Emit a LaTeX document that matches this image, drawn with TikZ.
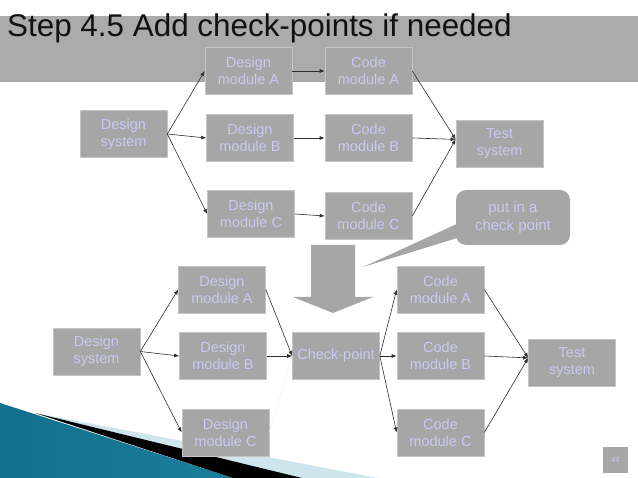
\documentclass[tikz,border=0pt]{standalone}
\usepackage{fontspec}
\setmainfont{Liberation Sans}
\usetikzlibrary{arrows.meta,calc}
\definecolor{bandgray}{HTML}{ABABAB}
\definecolor{boxgray}{HTML}{A6A6A6}
\definecolor{boxedge}{HTML}{C4C4C4}
\definecolor{lav}{HTML}{CACAF2}
\definecolor{lineclr}{HTML}{2E2E2E}
\definecolor{faint}{HTML}{E9F1F5}
\definecolor{swL}{HTML}{11708C}
\definecolor{swM}{HTML}{4BB0D0}
\definecolor{swR}{HTML}{1A7E9C}
\definecolor{paleblue}{HTML}{CFE5EE}
\definecolor{titleclr}{HTML}{111111}
\tikzset{
  pbox/.style={rectangle, fill=boxgray, draw=boxedge, line width=0.6pt,
    minimum width=87pt, minimum height=47pt, inner sep=0pt, text=lav,
    align=center, font=\fontsize{14.5}{17}\selectfont},
  conn/.style={draw=lineclr, line width=0.6pt, -{Latex[length=5pt,width=4pt]}},
}
\begin{document}
\begin{tikzpicture}[x=1pt,y=-1pt]
\useasboundingbox (0,0) rectangle (638,478);
\fill[white] (0,0) rectangle (638,478);
% title band
\fill[bandgray] (0,16) rectangle (638,82);
\node[anchor=base west, inner sep=0pt, font=\fontsize{31.4}{36}\selectfont, text=titleclr] (title) at (7,37) {Step 4.5 Add check-points if needed};
% decorative swoosh
\shade[left color=swL, middle color=swM, right color=swR] (0,403) -- (233,478) -- (0,478) -- cycle;
\fill[paleblue] (35,413) -- (378,478) -- (302,478) -- cycle;
\fill[black] (35,413) -- (302,478) -- (233,478) -- cycle;
% big down arrow
\fill[boxgray] (311,245) -- (355,245) -- (355,297) -- (373,297) -- (333,313) -- (293,297) -- (311,297) -- cycle;
% top diagram
\node[pbox] (tDS) at (123.5,134) {Design\\system};
\node[pbox] (tDA) at (248.5,71) {Design\\module A};
\node[pbox] (tCA) at (368.5,71) {Code\\module A};
\node[pbox] (tDB) at (250,138) {Design\\module B};
\node[pbox] (tCB) at (368.5,138) {Code\\module B};
\node[pbox] (tTS) at (499.5,144) {Test\\system};
\node[pbox] (tDC) at (251,214) {Design\\module C};
\node[pbox] (tCC) at (368.5,216) {Code\\module C};
\draw[conn] (tDS.east) -- (tDA.west);
\draw[conn] (tDS.east) -- (tDB.west);
\draw[conn] (tDS.east) -- (tDC.west);
\draw[conn] (tDA.east) -- (tCA.west);
\draw[conn] (tDB.east) -- (tCB.west);
\draw[conn] (tDC.east) -- (tCC.west);
\draw[conn] (tCA.east) -- (tTS.174);
\draw[conn] (tCB.east) -- (tTS.174);
\draw[conn] (tCC.east) -- (tTS.174);
% callout
\node[rectangle, rounded corners=10pt, fill=boxgray, minimum width=114pt, minimum height=55pt, inner sep=0pt, text=lav, align=center, font=\fontsize{15}{18}\selectfont] (call) at (513,217.5) {put in a\\check point};
\coordinate (tip) at (363,267);
\fill[boxgray] ($(call.west)+(3,5.5)$) -- (tip) -- ($(call.west)+(3,20)$) -- cycle;
% bottom diagram
\node[pbox] (bDS) at (96.5,351.5) {Design\\system};
\node[pbox] (bDA) at (222,289.5) {Design\\module A};
\node[pbox] (bDB) at (223,356) {Design\\module B};
\node[pbox] (bDC) at (225.5,432.5) {Design\\module C};
\node[pbox] (bCP) at (336,356) {Check-point};
\node[pbox] (bCA) at (440.5,289.5) {Code\\module A};
\node[pbox] (bCB) at (440.5,356) {Code\\module B};
\node[pbox] (bCC) at (440.5,432.5) {Code\\module C};
\node[pbox] (bTS) at (572,362.5) {Test\\system};
\draw[conn] (bDS.east) -- (bDA.west);
\draw[conn] (bDS.east) -- (bDB.west);
\draw[conn] (bDS.east) -- (bDC.west);
\draw[conn] (bDA.east) -- (bCP.west);
\draw[conn] (bDB.east) -- (bCP.west);
\draw[draw=faint, line width=0.5pt] (bDC.east) -- (bCP.west);
\draw[conn] (bCP.east) -- (bCA.west);
\draw[conn] (bCP.east) -- (bCB.west);
\draw[conn] (bCP.east) -- (bCC.west);
\draw[conn] (bCA.east) -- (bTS.174);
\draw[conn] (bCB.east) -- (bTS.174);
\draw[conn] (bCC.east) -- (bTS.174);
% page number
\node[rectangle, fill=boxgray, minimum width=25pt, minimum height=26pt, inner sep=0pt, text=lav, font=\fontsize{7}{8}\selectfont] (pg) at (615.5,460) {44};
\end{tikzpicture}
\end{document}
